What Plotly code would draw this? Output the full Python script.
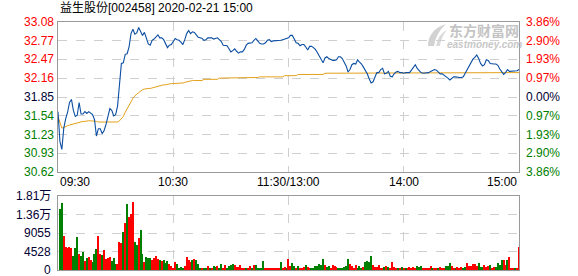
import plotly.graph_objects as go

title_text = "益生股份[002458] 2020-02-21 15:00"
prev_close = 31.85

minutes = list(range(241))
price = [
    31.61, 31.12, 30.99, 31.34, 31.49, 31.60, 31.76, 31.81, 31.63, 31.53,
    31.55, 31.76, 31.57, 31.57, 31.61, 31.58, 31.61, 31.59, 31.56, 31.48,
    31.21, 31.33, 31.33, 31.25, 31.30, 31.40, 31.53, 31.66, 31.63, 31.54,
    31.56, 31.70, 32.05, 32.40, 32.41, 32.55, 32.56, 32.67, 32.89, 32.96,
    32.88, 32.90, 32.99, 32.92, 32.86, 32.91, 32.82, 32.72, 32.70, 32.78,
    32.80, 32.83, 32.87, 32.82, 32.82, 32.79, 32.72, 32.66, 32.70, 32.71,
    32.76, 32.81, 32.79, 32.78, 32.75, 32.71, 32.79, 32.89, 32.94, 32.89,
    32.92, 32.91, 32.87, 32.83, 32.82, 32.81, 32.78, 32.79, 32.82, 32.82,
    32.82, 32.80, 32.81, 32.82, 32.79, 32.76, 32.70, 32.69, 32.69, 32.64,
    32.59, 32.61, 32.64, 32.60, 32.57, 32.59, 32.59, 32.63, 32.70, 32.73,
    32.74, 32.74, 32.78, 32.81, 32.77, 32.73, 32.72, 32.72, 32.74, 32.78,
    32.79, 32.76, 32.77, 32.77, 32.77, 32.77, 32.78, 32.79, 32.80, 32.80,
    32.82, 32.86, 32.86, 32.80, 32.74, 32.73, 32.69, 32.71, 32.71, 32.67,
    32.62, 32.68, 32.68, 32.66, 32.63, 32.58, 32.53, 32.47, 32.41, 32.49,
    32.51, 32.48, 32.46, 32.45, 32.45, 32.46, 32.51, 32.51, 32.48, 32.43,
    32.36, 32.26, 32.30, 32.38, 32.40, 32.39, 32.46, 32.42, 32.39, 32.34,
    32.29, 32.23, 32.15, 32.08, 32.10, 32.19, 32.25, 32.25, 32.30, 32.32,
    32.23, 32.24, 32.27, 32.19, 32.18, 32.23, 32.26, 32.27, 32.25, 32.25,
    32.24, 32.25, 32.25, 32.25, 32.29, 32.34, 32.38, 32.32, 32.28, 32.25,
    32.24, 32.24, 32.24, 32.25, 32.27, 32.28, 32.30, 32.29, 32.25, 32.23,
    32.23, 32.21, 32.19, 32.16, 32.13, 32.16, 32.18, 32.18, 32.17, 32.17,
    32.17, 32.18, 32.24, 32.30, 32.36, 32.41, 32.47, 32.50, 32.54, 32.48,
    32.40, 32.36, 32.38, 32.46, 32.45, 32.40, 32.39, 32.39, 32.39, 32.37,
    32.31, 32.26, 32.22, 32.25, 32.30, 32.27, 32.27, 32.27, 32.27, 32.28,
    32.30,
]
avg_price = [
    31.53, 31.42, 31.34, 31.35, 31.37, 31.38, 31.39, 31.40, 31.41, 31.41,
    31.42, 31.43, 31.44, 31.45, 31.45, 31.46, 31.46, 31.46, 31.46, 31.46,
    31.45, 31.44, 31.44, 31.43, 31.43, 31.43, 31.43, 31.44, 31.44, 31.44,
    31.44, 31.44, 31.46, 31.49, 31.53, 31.60, 31.65, 31.72, 31.77, 31.83,
    31.87, 31.90, 31.92, 31.95, 31.97, 31.98, 31.99, 31.99, 31.99, 32.00,
    32.01, 32.02, 32.03, 32.04, 32.05, 32.05, 32.05, 32.06, 32.06, 32.07,
    32.07, 32.07, 32.07, 32.07, 32.07, 32.08, 32.09, 32.10, 32.11, 32.11,
    32.12, 32.12, 32.12, 32.12, 32.12, 32.12, 32.14, 32.14, 32.14, 32.14,
    32.14, 32.14, 32.14, 32.14, 32.16, 32.16, 32.16, 32.16, 32.16, 32.16,
    32.16, 32.16, 32.16, 32.17, 32.17, 32.17, 32.17, 32.17, 32.17, 32.17,
    32.17, 32.17, 32.17, 32.17, 32.17, 32.18, 32.18, 32.18, 32.18, 32.18,
    32.18, 32.18, 32.18, 32.18, 32.18, 32.18, 32.18, 32.18, 32.20, 32.20,
    32.20, 32.20, 32.20, 32.20, 32.20, 32.22, 32.22, 32.22, 32.22, 32.22,
    32.22, 32.22, 32.22, 32.22, 32.22, 32.22, 32.22, 32.22, 32.22, 32.24,
    32.24, 32.24, 32.24, 32.24, 32.24, 32.24, 32.24, 32.24, 32.24, 32.24,
    32.24, 32.24, 32.24, 32.24, 32.24, 32.24, 32.24, 32.24, 32.24, 32.24,
    32.24, 32.24, 32.24, 32.24, 32.24, 32.24, 32.24, 32.24, 32.24, 32.24,
    32.24, 32.24, 32.24, 32.24, 32.24, 32.24, 32.24, 32.24, 32.24, 32.24,
    32.25, 32.25, 32.25, 32.25, 32.25, 32.25, 32.25, 32.25, 32.25, 32.25,
    32.25, 32.25, 32.25, 32.25, 32.25, 32.25, 32.25, 32.25, 32.25, 32.25,
    32.25, 32.25, 32.25, 32.25, 32.25, 32.25, 32.25, 32.25, 32.25, 32.25,
    32.25, 32.25, 32.25, 32.25, 32.25, 32.25, 32.25, 32.25, 32.25, 32.25,
    32.25, 32.25, 32.25, 32.25, 32.25, 32.25, 32.25, 32.25, 32.25, 32.25,
    32.25, 32.25, 32.25, 32.25, 32.25, 32.25, 32.25, 32.25, 32.25, 32.25,
    32.25,
]

vol_minutes = list(range(1, 241))
volume_am = [
    14990, 16380, 8350, 5650, 5410, 5650, 5410, 3440, 5410, 8110,
    3930, 3520, 4420, 2210, 2950, 3190, 2460, 1970, 3930, 5160,
    8350, 3930, 3690, 4910, 2700, 2950, 3190, 2210, 2950, 1470,
    1470, 6880, 6630, 9340, 11550, 16220, 13020, 13760, 16710, 6880,
    6140, 7860, 9830, 3930, 1970, 3190, 2950, 2950, 2460, 2950,
    3440, 2700, 2460, 2210, 2460, 1720, 2210, 1470, 980, 490,
    1970, 1470, 490, 740, 490, 980, 3190, 2460, 1970, 2460,
    2700, 2460, 1470, 490, 490, 250, 250, 980, 490, 490,
    980, 740, 980, 250, 1470, 490, 1230, 490, 980, 1230,
    1470, 1230, 740, 740, 1230, 490, 250, 490, 490, 980,
    250, 1230, 1230, 250, 250, 250, 2210, 250, 250, 490,
    250, 250, 250, 250, 250, 1970, 250, 740, 250, 2700,
]
volume_pm = [
    980, 1720, 980, 250, 980, 250, 490, 740, 1230, 740,
    250, 490, 250, 980, 980, 1470, 1230, 2700, 1230, 740,
    980, 490, 1230, 980, 740, 490, 490, 490, 740, 980,
    2700, 1470, 980, 250, 1230, 250, 980, 490, 740, 1970,
    2210, 2050, 3440, 1230, 740, 740, 1230, 250, 250, 740,
    980, 740, 490, 1970, 740, 250, 250, 250, 740, 250,
    490, 490, 740, 490, 740, 250, 980, 740, 980, 490,
    490, 250, 250, 980, 490, 250, 250, 490, 740, 250,
    250, 980, 980, 1720, 980, 250, 250, 740, 490, 740,
    250, 740, 1720, 980, 980, 1470, 1470, 980, 1720, 740,
    740, 1230, 740, 980, 1230, 490, 740, 740, 1720, 1230,
    2460, 2460, 1230, 2460, 3190, 250, 490, 250, 250, 5650,
]
# r = price up (red), g = price down (green)
direction_am = list(
    "ggrrrrrggg" "rggrgrrggg" "rrgrrrrggg" "rrrgrgrrrg"
    "grggrgggrr" "rrgrgggrrr" "rggggrrrrg" "rgggrggrgr"
    "ggrggrrggg" "grrrrrrgrr" "grgggggrrr" "rrrrrgrrgr"
)
direction_pm = list(
    "rggrgrrrgr" "rgggggggrg" "grrrrggggg" "grrrrgggrg"
    "gggrrrrrrg" "rgrrrrgrgr" "grrrrrgggr" "rrrrgrrgrr"
    "rgggrrgrrr" "ggrrrrrrgg" "grrrgrrggg" "grrgrrrgrr"
)
volume = volume_am + volume_pm
direction = direction_am + direction_pm

price_ticks = [33.08, 32.77, 32.47, 32.16, 31.85, 31.54, 31.23, 30.93, 30.62]
pct_labels = ["3.86%", "2.90%", "1.93%", "0.97%", "0.00%", "0.97%", "1.93%", "2.90%", "3.86%"]
vol_ticks = [0, 4528, 9055, 13583, 18110]
vol_labels = ["0", "4528", "9055", "1.36万", "1.81万"]
time_ticks = [0, 60, 120, 180, 240]
time_labels = ["09:30", "10:30", "11:30/13:00", "14:00", "15:00"]

RED = "#ff0000"
GREEN = "#008000"
DARK = "#000033"
BLUE = "#0b4ea2"
GOLD = "#e3a11a"
GRID = "#cfcfcf"
BORDER = "#999999"
FONT = "Liberation Sans, Noto Sans CJK SC, sans-serif"

fig = go.Figure()
fig.add_trace(go.Scatter(x=minutes, y=avg_price, mode="lines",
                         line=dict(color=GOLD, width=1), xaxis="x", yaxis="y",
                         hoverinfo="skip"))
fig.add_trace(go.Scatter(x=minutes, y=price, mode="lines",
                         line=dict(color=BLUE, width=1.1), xaxis="x", yaxis="y"))
bar_colors = [RED if d == "r" else GREEN for d in direction]
fig.add_trace(go.Bar(x=vol_minutes, y=volume, marker=dict(color=bar_colors, line=dict(width=0)),
                     width=0.6, xaxis="x2", yaxis="y2"))

W, H = 578, 276
ml, mr, mt, mb = 58, 59, 22, 6
pw = W - ml - mr
ph = H - mt - mb
price_bottom = 1 - (172 - mt) / ph
vol_top = (270 - 196) / ph


def px_x(v):
    return (v - ml) / pw


def px_y(v):
    return 1 - (v - mt) / ph


axis_common = dict(showline=True, mirror=True, linecolor=BORDER, linewidth=1,
                   zeroline=False, ticks="", showticklabels=False,
                   showgrid=True, gridcolor=GRID, gridwidth=1, griddash="dash")

fig.update_layout(
    width=W, height=H, margin=dict(l=ml, r=mr, t=mt, b=mb),
    paper_bgcolor="white", plot_bgcolor="white", showlegend=False,
    bargap=0,
    xaxis=dict(axis_common, range=[0, 240], domain=[0, 1], anchor="y",
               tickmode="array", tickvals=time_ticks[1:-1]),
    yaxis=dict(axis_common, range=[price_ticks[-1], price_ticks[0]],
               domain=[price_bottom, 1], anchor="x",
               tickmode="array", tickvals=price_ticks[1:-1]),
    xaxis2=dict(axis_common, range=[0, 240], domain=[0, 1], anchor="y2",
                tickmode="array", tickvals=time_ticks[1:-1]),
    yaxis2=dict(axis_common, range=[0, vol_ticks[-1]], domain=[0, vol_top], anchor="x2",
                tickmode="array", tickvals=vol_ticks[1:-1]),
)

ann = []
ann.append(dict(text=title_text, xref="paper", yref="paper", x=0, y=px_y(8.5),
                xanchor="left", yanchor="middle", showarrow=False,
                font=dict(family=FONT, size=12, color="#000000")))
for v, p in zip(price_ticks, pct_labels):
    if v > prev_close + 1e-9:
        c = RED
    elif v < prev_close - 1e-9:
        c = GREEN
    else:
        c = DARK
    ann.append(dict(text=f"{v:.2f}", xref="paper", yref="y", x=0, y=v, xanchor="right",
                    yanchor="middle", xshift=-2, showarrow=False,
                    font=dict(family=FONT, size=12, color=c)))
    ann.append(dict(text=p, xref="paper", yref="y", x=1, y=v, xanchor="left",
                    yanchor="middle", xshift=5, showarrow=False,
                    font=dict(family=FONT, size=12, color=c)))
for v, lab in zip(vol_ticks, vol_labels):
    ann.append(dict(text=lab, xref="paper", yref="y2", x=0, y=v, xanchor="right",
                    yanchor="middle", xshift=-5, showarrow=False,
                    font=dict(family=FONT, size=12, color=DARK)))
time_y = px_y(181.7)
for i, (t, lab) in enumerate(zip(time_ticks, time_labels)):
    xa = "left" if i == 0 else ("right" if i == len(time_ticks) - 1 else "center")
    ann.append(dict(text=lab, xref="x", yref="paper", x=t, y=time_y, xanchor=xa,
                    yanchor="middle", showarrow=False,
                    font=dict(family=FONT, size=12, color="#000000")))
# watermark
ann.append(dict(text="<b>东方财富网</b>", xref="paper", yref="paper",
                x=px_x(484), y=px_y(30), xanchor="center", yanchor="middle",
                showarrow=False, borderpad=0,
                font=dict(family="Noto Sans CJK SC", size=14, color="#c4c4c4")))
ann.append(dict(text="<b><i>eastmoney.com</i></b>", xref="paper", yref="paper",
                x=px_x(484), y=px_y(44), xanchor="center", yanchor="middle",
                showarrow=False, borderpad=0,
                font=dict(family="Liberation Sans", size=10, color="#c8c8c8")))
fig.update_layout(annotations=ann)

# watermark logo swoosh (decorative)
def pth(points):
    s = ""
    for i, (cmd, pts) in enumerate(points):
        s += cmd + " " + " ".join(f"{px_x(a):.4f},{px_y(b):.4f}" for a, b in pts) + " "
    return s + "Z"

fig.add_shape(type="path", xref="paper", yref="paper", line=dict(width=0),
              fillcolor="#d2d2d2", layer="below",
              path=pth([("M", [(428, 46)]), ("Q", [(428, 30), (446, 24)]),
                        ("Q", [(436, 33), (434, 46)])]))
fig.add_shape(type="path", xref="paper", yref="paper", line=dict(width=0),
              fillcolor="#dadada", layer="below",
              path=pth([("M", [(436, 46)]), ("Q", [(438, 34), (447, 30)]),
                        ("Q", [(441, 37), (440, 46)])]))

fig.write_html("out.html")
